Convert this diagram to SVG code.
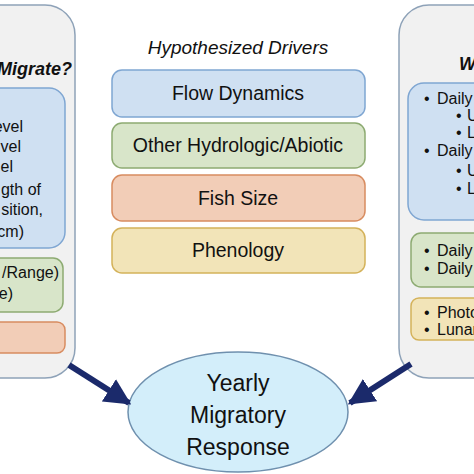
<svg xmlns="http://www.w3.org/2000/svg" width="474" height="474" viewBox="0 0 474 474">
<defs>
<style>
text{font-family:"Liberation Sans","Noto Sans",sans-serif;fill:#111;}
.panel{fill:#f1f1f1;stroke:#8ea2b8;stroke-width:1.5;}
.blue{fill:#cfe0f2;stroke:#7fa6d2;stroke-width:1.5;}
.green{fill:#d8e5c9;stroke:#8dab72;stroke-width:1.5;}
.orange{fill:#f2cdb7;stroke:#d88c60;stroke-width:1.5;}
.yellow{fill:#f2e4b8;stroke:#d4b25a;stroke-width:1.5;}
.drv{font-size:19.5px;text-anchor:middle;}
.t16{font-size:16px;}
.ttl{font-size:18px;font-weight:bold;font-style:italic;}
.arrow{stroke:#1b2a6b;stroke-width:6;fill:none;}
</style>
<marker id="ah" viewBox="0 0 10 10" refX="9" refY="5" markerWidth="4.4" markerHeight="4.4" orient="auto" markerUnits="strokeWidth">
<path d="M0,0 L10,5 L0,10 Z" fill="#1b2a6b"/>
</marker>
</defs>
<rect width="474" height="474" fill="#ffffff"/>

<g id="left-panel">
<rect class="panel" x="-40" y="5" width="115" height="373" rx="30"/>
<text class="ttl" x="72" y="75" text-anchor="end">Migrate?</text>
<rect class="blue" x="-20" y="88" width="85" height="160" rx="16"/>
<text class="t16" x="23" y="132" text-anchor="end">evel</text>
<text class="t16" x="21" y="152" text-anchor="end">vel</text>
<text class="t16" x="13" y="172" text-anchor="end">el</text>
<text class="t16" x="41" y="195" text-anchor="end">gth of</text>
<text class="t16" x="43" y="215" text-anchor="end">sition,</text>
<text class="t16" x="24" y="237" text-anchor="end">cm)</text>
<rect class="green" x="-20" y="258" width="83" height="54" rx="10"/>
<text class="t16" x="59" y="278" text-anchor="end">/Range)</text>
<text class="t16" x="13" y="299" text-anchor="end">e)</text>
<rect class="orange" x="-20" y="322" width="85" height="31" rx="8"/>
</g>

<g id="right-panel">
<rect class="panel" x="399" y="5" width="115" height="373" rx="30"/>
<text class="ttl" x="459" y="70">W</text>
<rect class="blue" x="408" y="83" width="90" height="137" rx="16"/>
<text class="t16" x="424" y="104">•</text><text class="t16" x="437" y="104">Daily</text>
<text class="t16" x="456" y="121">•</text><text class="t16" x="467" y="121">U</text>
<text class="t16" x="456" y="138">•</text><text class="t16" x="467" y="138">L</text>
<text class="t16" x="424" y="156">•</text><text class="t16" x="437" y="156">Daily</text>
<text class="t16" x="456" y="176">•</text><text class="t16" x="467" y="176">U</text>
<text class="t16" x="456" y="194">•</text><text class="t16" x="467" y="194">L</text>
<rect class="green" x="411" y="233" width="90" height="54" rx="10"/>
<text class="t16" x="424" y="256">•</text><text class="t16" x="437" y="256">Daily</text>
<text class="t16" x="424" y="274">•</text><text class="t16" x="437" y="274">Daily</text>
<rect class="yellow" x="411" y="298" width="90" height="42" rx="8"/>
<text class="t16" x="424" y="318">•</text><text class="t16" x="437" y="318">Photo</text>
<text class="t16" x="424" y="335">•</text><text class="t16" x="437" y="335">Lunar</text>
</g>

<g id="drivers">
<text x="238" y="54" font-size="19" font-style="italic" text-anchor="middle">Hypothesized Drivers</text>
<g id="flow-dynamics"><rect class="blue" x="112" y="70" width="253" height="47" rx="10"/><text class="drv" x="238" y="100">Flow Dynamics</text></g>
<g id="other-hydrologic"><rect class="green" x="112" y="123" width="253" height="45" rx="10"/><text class="drv" x="238" y="152">Other Hydrologic/Abiotic</text></g>
<g id="fish-size"><rect class="orange" x="112" y="175" width="253" height="46" rx="10"/><text class="drv" x="238" y="205">Fish Size</text></g>
<g id="phenology"><rect class="yellow" x="112" y="228" width="253" height="45" rx="10"/><text class="drv" x="238" y="257">Phenology</text></g>
</g>

<g id="response">
<ellipse cx="238" cy="412" rx="110" ry="60" fill="#d3eefa" stroke="#6f90ae" stroke-width="1.5"/>
<text x="238" y="391" font-size="23" text-anchor="middle">Yearly</text>
<text x="238" y="423" font-size="23" text-anchor="middle">Migratory</text>
<text x="238" y="455" font-size="23" text-anchor="middle">Response</text>
</g>

<g id="connectors">
<line class="arrow" x1="69" y1="365" x2="129" y2="403" marker-end="url(#ah)"/>
<line class="arrow" x1="411" y1="364" x2="350" y2="403" marker-end="url(#ah)"/>
</g>
</svg>
